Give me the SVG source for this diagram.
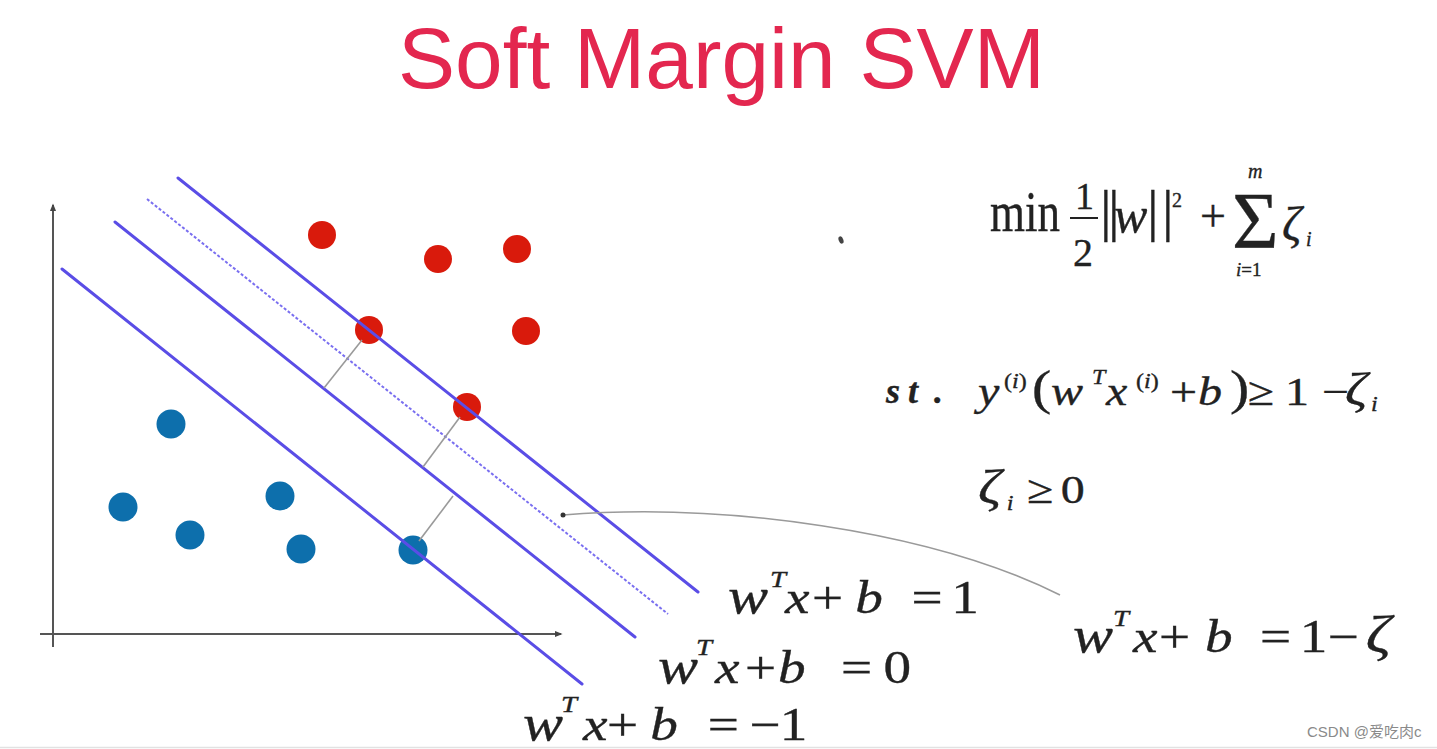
<svg xmlns="http://www.w3.org/2000/svg" width="1437" height="749" viewBox="0 0 1437 749">
<style>
.ti{font-family:"Liberation Sans",Arial,sans-serif;font-size:86px;fill:#e3274f}
.m{font-family:"Liberation Serif","Times New Roman",serif;fill:#222;stroke:#222;stroke-width:0.35}
.it{font-style:italic}
.ax{stroke:#555;stroke-width:2;fill:none}
.hp{stroke:#5a4de6;stroke-width:3;stroke-linecap:round;fill:none}
.dt{stroke:#7a6ff0;stroke-width:2;stroke-dasharray:3 2;fill:none}
.sl{stroke:#9a9a9a;stroke-width:1.6;fill:none}
.red{fill:#d91a0c}
.blue{fill:#0d6fac}
.wm{font-family:"Liberation Sans","Noto Sans CJK SC",sans-serif;font-size:15px;fill:#8a8a8a}
</style>
<defs>
<marker id="ar" viewBox="0 0 10 10" refX="8" refY="5" markerWidth="4" markerHeight="4" orient="auto"><path d="M0,1 L10,5 L0,9 z" fill="#444"/></marker>
</defs>
<rect width="1437" height="749" fill="#fff"/>
<line x1="0" y1="747.5" x2="1437" y2="747.5" stroke="#e2e2e2" stroke-width="1.5"/>

<g id="title"><text class="ti" x="398" y="88" textLength="647" lengthAdjust="spacingAndGlyphs">Soft Margin SVM</text></g>

<g id="axes">
<line class="ax" x1="53" y1="647" x2="53" y2="205" marker-end="url(#ar)"/>
<line class="ax" x1="40" y1="634" x2="561" y2="634" marker-end="url(#ar)"/>
</g>

<g id="red-points">
<circle class="red" cx="322" cy="235" r="14"/>
<circle class="red" cx="438" cy="259" r="14"/>
<circle class="red" cx="517" cy="249" r="14"/>
<circle class="red" cx="369" cy="330" r="14"/>
<circle class="red" cx="526" cy="331" r="14"/>
<circle class="red" cx="467" cy="407" r="14"/>
</g>
<g id="blue-points">
<circle class="blue" cx="171" cy="424" r="14.5"/>
<circle class="blue" cx="123" cy="507" r="14.5"/>
<circle class="blue" cx="190" cy="535" r="14.5"/>
<circle class="blue" cx="280" cy="496" r="14.5"/>
<circle class="blue" cx="301" cy="549" r="14.5"/>
<circle class="blue" cx="413" cy="550" r="14.5"/>
</g>

<g id="connectors">
<line class="hp" x1="178" y1="178" x2="698" y2="592"/>
<line class="dt" x1="147" y1="199" x2="668" y2="614"/>
<line class="hp" x1="115" y1="222" x2="635" y2="637"/>
<line class="hp" x1="62" y1="269" x2="582" y2="684"/>
<line class="sl" x1="362" y1="340" x2="324" y2="388"/>
<line class="sl" x1="460" y1="417" x2="423" y2="467"/>
<line class="sl" x1="453" y1="496" x2="419" y2="541"/>
<path class="sl" d="M563,515 C720,502 930,530 1060,595"/>
<circle cx="563" cy="515" r="2.5" fill="#333"/>
</g>

<ellipse cx="841" cy="240" rx="2.3" ry="3.8" transform="rotate(-20 841 240)" fill="#444"/>

<g id="objective">
<text class="m" y="231" font-size="58"><tspan x="990" textLength="70" lengthAdjust="spacingAndGlyphs">min</tspan></text>
<text class="m" font-size="38"><tspan x="1075" y="209">1</tspan><tspan x="1073" y="266" font-size="40">2</tspan></text>
<line x1="1070" y1="218" x2="1098" y2="218" stroke="#222" stroke-width="2"/>
<text class="m" y="230" font-size="58"><tspan x="1100">|</tspan><tspan x="1108">|</tspan><tspan x="1114" y="232" font-size="50" font-style="italic">w</tspan><tspan x="1147" y="230">|</tspan><tspan x="1162">|</tspan><tspan x="1172" y="207" font-size="20">2</tspan></text>
<text class="m" x="1200" y="231" font-size="46">+</text>
<text class="m" font-size="20"><tspan class="it" x="1248" y="178">m</tspan><tspan x="1232" y="248" font-size="80">Σ</tspan><tspan class="it" x="1236" y="276" font-size="19">i</tspan><tspan font-size="19">=1</tspan></text>
<text class="m it" font-size="48"><tspan x="1282" y="240">ζ</tspan><tspan x="1306" y="246" font-size="20">i</tspan></text>
</g>

<g id="constraint">
<text class="m it" y="403" font-size="36" font-weight="bold"><tspan x="886">s</tspan><tspan x="908">t</tspan><tspan x="934">.</tspan></text>
<text class="m" font-size="40" transform="translate(978,405) scale(1.2,1)"><tspan class="it" x="0" y="0">y</tspan><tspan x="21.7" y="-17" font-size="20">(<tspan class="it">i</tspan>)</tspan><tspan x="45" y="-1" font-size="48">(</tspan><tspan class="it" x="60.8" y="0">w</tspan><tspan class="it" x="95" y="-21" font-size="20">T</tspan><tspan class="it" x="106.7" y="0">x</tspan><tspan x="131.7" y="-17" font-size="20">(<tspan class="it">i</tspan>)</tspan><tspan x="160" y="0">+</tspan><tspan class="it" x="183.3" y="0">b</tspan><tspan x="210" y="-1" font-size="48">)</tspan><tspan x="225" y="0">≥</tspan><tspan x="255.8" y="0">1</tspan><tspan x="286.7" y="0">−</tspan><tspan class="it" x="305.8" y="0" font-size="46">ζ</tspan><tspan class="it" x="327.5" y="6" font-size="20">i</tspan></text>
<text class="m" font-size="40" transform="translate(978,503) scale(1.2,1)"><tspan class="it" x="0" y="0" font-size="48">ζ</tspan><tspan class="it" x="24" y="7" font-size="20">i</tspan><tspan x="41" y="0">≥</tspan><tspan x="69" y="0">0</tspan></text>
</g>

<g id="label-plus1">
<text class="m" font-size="46" transform="translate(728,613) scale(1.2,1)"><tspan class="it" x="0" y="0" font-size="50">w</tspan><tspan class="it" x="35" y="-26" font-size="24">T</tspan><tspan class="it" x="47.5" y="0">x</tspan><tspan x="70" y="0">+</tspan><tspan class="it" x="106" y="0">b</tspan><tspan x="153" y="0">=</tspan><tspan x="186" y="0">1</tspan></text>
</g>
<g id="label-zero">
<text class="m" font-size="46" transform="translate(658,683) scale(1.2,1)"><tspan class="it" x="0" y="0" font-size="50">w</tspan><tspan class="it" x="31.7" y="-28" font-size="24">T</tspan><tspan class="it" x="47.5" y="0">x</tspan><tspan x="72.5" y="0">+</tspan><tspan class="it" x="100" y="0">b</tspan><tspan x="152.5" y="0">=</tspan><tspan x="188" y="0">0</tspan></text>
</g>
<g id="label-minus1">
<text class="m" font-size="46" transform="translate(523,740) scale(1.2,1)"><tspan class="it" x="0" y="0" font-size="50">w</tspan><tspan class="it" x="31.7" y="-28" font-size="24">T</tspan><tspan class="it" x="50" y="0">x</tspan><tspan x="70" y="0">+</tspan><tspan class="it" x="106" y="0">b</tspan><tspan x="154" y="0">=</tspan><tspan x="189" y="0">−</tspan><tspan x="214" y="0">1</tspan></text>
</g>
<g id="label-slack">
<text class="m" font-size="46" transform="translate(1073,652) scale(1.2,1)"><tspan class="it" x="0" y="0" font-size="50">w</tspan><tspan class="it" x="33.3" y="-26" font-size="24">T</tspan><tspan class="it" x="50" y="0">x</tspan><tspan x="71.7" y="0">+</tspan><tspan class="it" x="110" y="0">b</tspan><tspan x="155.8" y="0">=</tspan><tspan x="189" y="0">1</tspan><tspan x="212.5" y="0">−</tspan><tspan class="it" x="244" y="0" font-size="52">ζ</tspan></text>
</g>

<g id="watermark"><text class="wm" x="1307" y="737">CSDN @爱吃肉c</text></g>
</svg>
